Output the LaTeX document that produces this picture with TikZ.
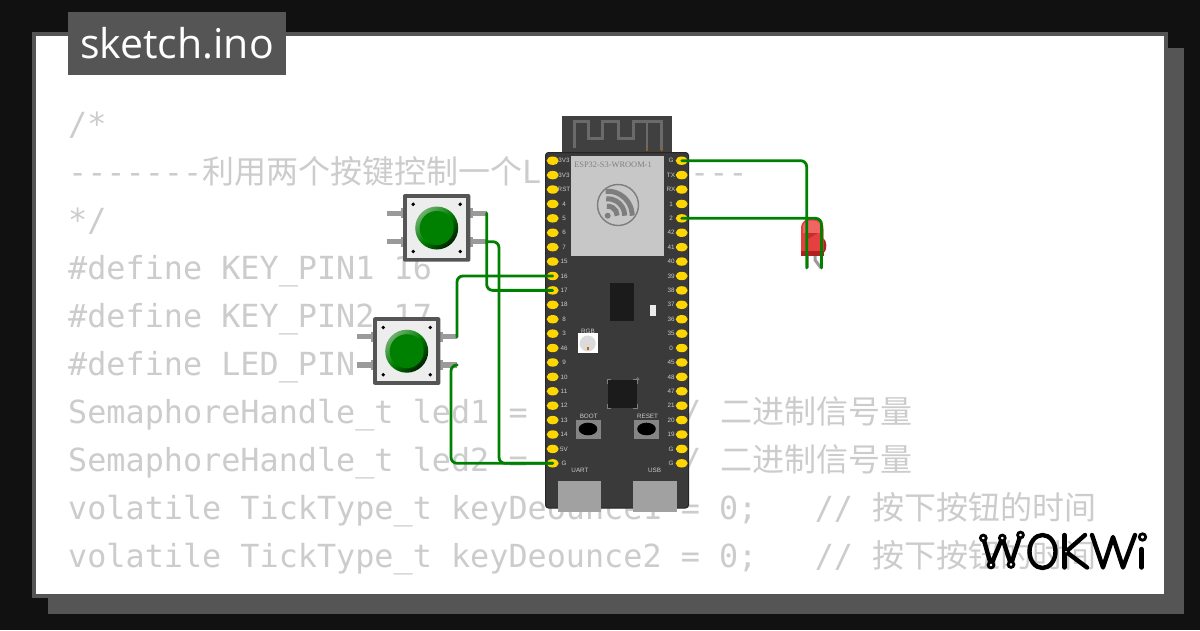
\documentclass[tikz,border=0pt]{standalone}
\usepackage{fontspec}
\usetikzlibrary{shapes.geometric}
\newfontfamily\codefont{DejaVu Sans Mono}
\newfontfamily\cjk{Noto Sans CJK SC}
\newfontfamily\titlefont{Open Sans}
\newfontfamily\boardfont{Liberation Sans}
\newfontfamily\modfont{Liberation Serif}
\newcommand{\cjktext}[1]{{\cjk\fontsize{32}{32}\selectfont #1}}
\definecolor{framebg}{HTML}{111111}
\definecolor{framegray}{HTML}{555555}
\definecolor{codegray}{HTML}{CCCCCC}
\definecolor{boardbg}{HTML}{3A3A3A}
\definecolor{antbg}{HTML}{404040}
\definecolor{tracegray}{HTML}{6A6A6A}
\definecolor{padgold}{HTML}{FFD600}
\definecolor{wiregreen}{HTML}{008000}
\definecolor{pingray}{HTML}{9A9A9A}
\definecolor{chipblack}{HTML}{1B1B1B}
\definecolor{btnlight}{HTML}{6FB06F}
\definecolor{btndark}{HTML}{002000}
\definecolor{btnbody}{HTML}{EDEDED}
\definecolor{ledmain}{HTML}{E63F3F}
\definecolor{ledlight}{HTML}{F06464}
\definecolor{leddark}{HTML}{C42E2E}
\definecolor{ledbase}{HTML}{B02222}
\definecolor{espgray}{HTML}{7E7E7E}
\tikzset{
  codeline/.style={anchor=base west,inner sep=0pt,text=codegray,font=\codefont\fontsize{31.8}{32}\selectfont},
  titlelabel/.style={anchor=base west,inner sep=0pt,text=white,font=\titlefont\fontsize{41}{41}\selectfont},
  pinpad/.style={ellipse,fill=padgold,draw=none,minimum width=12pt,minimum height=8.4pt,inner sep=0pt},
  pintext/.style={inner sep=0pt,text=codegray,font=\boardfont\fontsize{6.3}{6.5}\selectfont},
  silk/.style={inner sep=0pt,text=codegray,font=\boardfont\fontsize{6.3}{6.5}\selectfont},
  wire/.style={draw=wiregreen,line width=2.8pt,rounded corners=6pt,line cap=round},
  logoline/.style={draw=black,line width=4.4pt,line cap=round,line join=round},
  logodot/.style={draw=black,fill=white,line width=2.8pt},
}
\newcommand{\pushbtn}[3]{%
  \begin{scope}[shift={(#2,#3)}]
    \foreach \py in {-14.7,13.7}{
      \fill[pingray] (-49.5,\py-2.7) rectangle (49.8,\py+2.7);
      \fill[pingray] (-36,\py-5) rectangle (36,\py+5);
    }
    \fill[framegray,rounded corners=2pt] (-33.7,-34) rectangle (33.7,33.7);
    \fill[btnbody] (-29.5,-30) rectangle (29.5,29.5);
    \foreach \dx in {-23.5,23.5}\foreach \dy in {-23.7,23.5}{\fill[black] (\dx,\dy) circle (1.9);}
    \shade[shading=axis,top color=btnlight,bottom color=btndark,middle color=wiregreen,shading angle=45] (0,0) circle (21.5);
    \fill[wiregreen] (0,0) circle (17);
  \end{scope}}
\begin{document}
\begin{tikzpicture}[x=1pt,y=-1pt]
\useasboundingbox (0,0) rectangle (1200,630);
\fill[framebg] (0,0) rectangle (1200,630);
\fill[framegray] (48,48) rectangle (1184,614);
\fill[framegray] (32,32) rectangle (1168,598);
\fill[white] (36,36) rectangle (1164,594);
% code
\node[codeline] (c1) at (68,135) {/*};
\node[codeline] (c2) at (68,183) {-------\cjktext{利用两个按键控制一个}L};
\node[codeline] (c2b) at (690,183) {---};
\node[codeline] (c3) at (68,231) {*/};
\node[codeline] (c4) at (68,279) {\#define KEY\_PIN1 16};
\node[codeline] (c5) at (68,327) {\#define KEY\_PIN2 17};
\node[codeline] (c6) at (68,375) {\#define LED\_PIN};
\node[codeline] (c7) at (68,423) {SemaphoreHandle\_t led1 =};
\node[codeline] (c7b) at (682,423) {/ \cjktext{二进制信号量}};
\node[codeline] (c8) at (68,471) {SemaphoreHandle\_t led2 =};
\node[codeline] (c8b) at (682,471) {/ \cjktext{二进制信号量}};
\node[codeline] (c9) at (68,519) {volatile TickType\_t keyDeounce1 = 0;~~~// \cjktext{按下按钮的时间}};
\node[codeline] (c10) at (68,567) {volatile TickType\_t keyDeounce2 = 0;~~~// \cjktext{按下按钮的时间}};
% title tab
\fill[framegray] (68,12) rectangle (286,75);
\node[titlelabel] (title) at (80,58) {sketch.ino};
% logo
\draw[logoline] (983.3,538) -- (991,565) -- (1002.3,538) -- (1011,564.5) -- (1020.5,535);
\foreach \p in {(983.3,538),(1002.3,538),(1020.5,535),(991,565),(1011,564.5)}{\draw[logodot] \p circle (2.9);}
\draw[logoline] (1042.5,551.5) ellipse (13 and 16.5);
\draw[logoline] (1064.5,535) -- (1064.5,567.5);
\draw[logoline] (1085,535) -- (1066,551.7) -- (1087,567.5);
\draw[logodot] (1066,551.7) circle (2.4);
\draw[logoline] (1092,535) -- (1103,567.5) -- (1113,537) -- (1123,567.5) -- (1135,535);
\draw[logoline] (1141.5,549) -- (1141.5,567.5);
\draw[logodot] (1142.5,537) circle (3.2);
% antenna
\fill[antbg] (562,116) rectangle (672,153);
\draw[tracegray,line width=3pt] (574.3,148) -- (574.3,121) -- (588,121) -- (588,138) -- (602.7,138) -- (602.7,121) -- (618,121) -- (618,138) -- (633,138) -- (633,121) -- (661.7,121) -- (661.7,150);
\draw[tracegray,line width=1.8pt] (647,121) -- (647,150);
\fill[orange!70!black] (647,150) circle (1.4) (661.7,150) circle (1.4);
% board
\fill[boardbg,draw=black!85,line width=1pt,rounded corners=3pt] (545.5,152.5) rectangle (688.5,508);
% module
\fill[black!22] (571,156) rectangle (664,256);
\node[inner sep=0pt,text=black!50,font=\modfont\fontsize{8.4}{9}\selectfont] (modname) at (613,165) {ESP32-S3-WROOM-1};
\draw[espgray,line width=1.4pt] (618,205) circle (20.5);
\begin{scope}
  \clip (618,205) circle (19.6);
  \foreach \r in {9.5,17,24.5}{\draw[espgray,line width=5pt] (607.7,215.7) ++(0:\r) arc[start angle=0,end angle=-95,radius=\r];}
\end{scope}
\fill[espgray] (607.7,215.7) circle (3);
% pads
\foreach \t [count=\i] in {3V3,3V3,RST,4,5,6,7,15,16,17,18,8,3,46,9,10,11,12,13,14,5V,G}{
  \node[pinpad] (L\i) at (552.7,{160.7+14.41*(\i-1)}) {};
  \node[pintext] (Lt\i) at (564,{160.7+14.41*(\i-1)}) {\t};
}
\foreach \t [count=\i] in {G,TX,RX,1,2,42,41,40,39,38,37,36,35,0,45,48,47,21,20,19,G,G}{
  \node[pinpad] (R\i) at (681.7,{160.7+14.41*(\i-1)}) {};
  \node[pintext] (Rt\i) at (671,{160.7+14.41*(\i-1)}) {\t};
}
% chips
\fill[chipblack] (609.5,283) rectangle (634,321);
\fill[black!8] (650,305) rectangle (656,316);
\fill[white] (578,333) rectangle (598,353);
\fill[black!14] (587.7,343.5) circle (8);
\fill[orange!80!black] (586.7,347) rectangle (588.7,349.5);
\node[silk] (rgb) at (588,331) {RGB};
\fill[chipblack] (607.5,380) rectangle (636.7,408);
\draw[black!50,line width=.7pt] (607.5,384) |- (611,379.7) (633,379.7) -| (636.9,384) (607.5,404) |- (611,408.3) (633,408.3) -| (636.9,404);
\draw[black!50,line width=.7pt] (637.7,379) circle (1.3);
% tact buttons
\fill[black!48] (576,420) rectangle (600.5,438.5);
\fill[black] (588,429) ellipse (9.3 and 6.3);
\fill[black!48] (634,420) rectangle (659,438.5);
\fill[black] (646.5,429) ellipse (9.3 and 6.3);
\node[silk] (boot) at (588.7,416) {BOOT};
\node[silk] (reset) at (647.5,416) {RESET};
\node[silk] (uart) at (580,470) {UART};
\node[silk] (usb) at (654.5,470) {USB};
% ports
\fill[black!37] (557.7,481) rectangle (601,512);
\fill[black!37] (633,481) rectangle (677,512);
% LED
\fill[pingray] (805.5,255) rectangle (809,268);
\draw[pingray,line width=3pt] (815,255) -- (815,260) -- (821,268);
\fill[ledbase] (823,238) .. controls (827,240) and (828,250) .. (823,254) -- cycle;
\fill[ledmain] (801,253) -- (801,229) .. controls (801,221) and (806,218.5) .. (812,218.5) .. controls (818,218.5) and (823.5,221) .. (823.5,229) -- (823.5,253) -- cycle;
\fill[ledlight] (803,226) .. controls (804,222) and (808,220.5) .. (812,220.5) .. controls (816,220.5) and (820,222) .. (821,226) -- (821,233) -- (803,233) -- cycle;
\fill[leddark] (806,240) -- (818,233) -- (808,233) -- cycle;
\fill[ledbase] (801,251) rectangle (823.5,255.5);
\node[coordinate] (ledC) at (806.7,268) {};
\node[coordinate] (ledA) at (821.5,268) {};
% buttons
\pushbtn{b1}{436.7}{228}
\pushbtn{b2}{406.7}{351.2}
\coordinate (b1r1) at (486.7,213.3);
\coordinate (b1r2) at (486.7,241.7);
\coordinate (b2r1) at (457,337);
\coordinate (b2r2) at (457.3,365);
\coordinate (d1) at (499,241.7);
\coordinate (f1) at (451,365);
% wires
\draw[wire] (R1.center) -| (ledC);
\draw[wire] (R5.center) -| (ledA);
\draw[wire] (b1r1) |- (L10.center);
\draw[wire] (b2r1) |- (L9.center);
\draw[wire] (b1r2) -- (d1) |- (L22.center);
\draw[wire] (b2r2) -- (f1) |- (L22.center);
\end{tikzpicture}
\end{document}
